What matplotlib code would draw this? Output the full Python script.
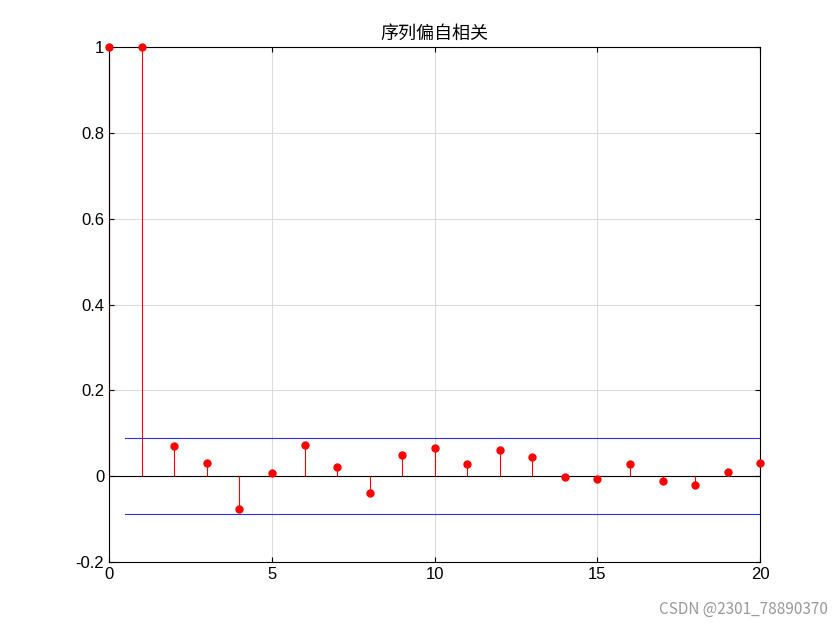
import matplotlib.pyplot as plt

plt.rcParams['font.family'] = ['Noto Sans CJK SC', 'DejaVu Sans']

lags = list(range(21))
pacf = [1.0, 1.0, 0.07, 0.03, -0.077, 0.007, 0.072, 0.021, -0.04, 0.049, 0.065,
        0.028, 0.06, 0.044, -0.003, -0.007, 0.028, -0.012, -0.021, 0.009, 0.03]
bound = 0.088

fig = plt.figure(figsize=(8.4, 6.3), dpi=100)
ax = fig.add_axes([0.13, 0.108, 0.775, 0.817])

ax.grid(True, color='#dcdcdc', linewidth=0.8)
ax.set_axisbelow(True)
ax.axhline(0, color='black', linewidth=0.8)
ax.vlines(lags, 0, pacf, color='red', linewidth=0.8, clip_on=False)
ax.plot(lags, pacf, 'o', color='red', markersize=5, clip_on=False, zorder=5)
ax.plot([0.5, 20], [bound, bound], color='#3030e0', linewidth=0.8)
ax.plot([0.5, 20], [-bound, -bound], color='#3030e0', linewidth=0.8)

ax.set_xlim(0, 20)
ax.set_ylim(-0.2, 1)
ax.set_xticks([0, 5, 10, 15, 20])
ax.set_yticks([-0.2, 0, 0.2, 0.4, 0.6, 0.8, 1])
ax.set_yticklabels(['-0.2', '0', '0.2', '0.4', '0.6', '0.8', '1'])
ax.tick_params(direction='in', labelsize=12, top=True, right=True)
for lbl in ax.get_xticklabels() + ax.get_yticklabels():
    lbl.set_family(['Liberation Sans', 'DejaVu Sans'])
for s in ax.spines.values():
    s.set_linewidth(0.8)
ax.set_title('序列偏自相关', fontsize=13)

fig.text(0.985, 0.02, 'CSDN @2301_78890370', ha='right', va='bottom',
         fontsize=11, color='#999999')

plt.savefig('out.png', dpi=100)
